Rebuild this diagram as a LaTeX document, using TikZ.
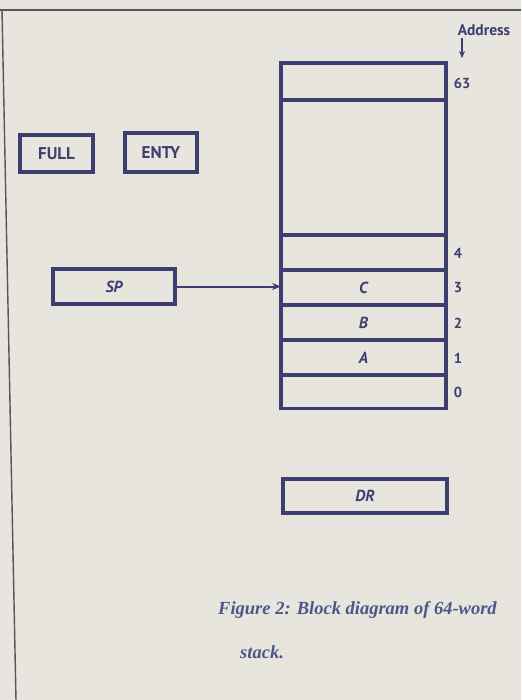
\documentclass[tikz,border=0pt]{standalone}
\usepackage{fontspec}
\setmainfont{Liberation Serif}
\setsansfont{PT Sans}
\usetikzlibrary{arrows.meta}
\definecolor{ink}{HTML}{3C3F70}
\definecolor{bg}{HTML}{E7E5DD}
\definecolor{capc}{HTML}{4A5888}
\definecolor{frame}{HTML}{55555F}
\begin{document}
\begin{tikzpicture}[x=1pt,y=-1pt,
  cell/.style={draw=ink,line width=3.2pt,inner sep=0pt,outer sep=0pt,minimum width=165pt,minimum height=35pt},
  regbox/.style={draw=ink,line width=3.2pt,inner sep=0pt,outer sep=0pt},
  lbl/.style={font=\sffamily\bfseries\fontsize{17}{17}\selectfont,text=ink},
  ilbl/.style={font=\sffamily\bfseries\itshape\fontsize{16}{16}\selectfont,text=ink},
  num/.style={font=\sffamily\bfseries\fontsize{14.5}{14.5}\selectfont,text=ink},
  capt/.style={font=\bfseries\itshape\fontsize{18.5}{18.5}\selectfont,text=capc,inner sep=0pt,anchor=west}]
\fill[bg] (0,0) rectangle (521,700);
\useasboundingbox (0,0) rectangle (521,700);
% frame lines of the photographed page
\draw[frame,line width=1.4pt] (0,10) -- (521,10);
\draw[frame,line width=1.4pt] (2,10) -- (16,700);
% status flags
\node[regbox,minimum width=73pt,minimum height=37pt,lbl] (full) at (56.5,153.5) {FULL};
\node[regbox,minimum width=72pt,minimum height=39pt,lbl] (empty) at (161,152.5) {ENTY};
% stack
\node[cell,minimum height=37pt] (w63) at (363.5,81.5) {};
\node[cell,minimum height=135pt] (wgap) at (363.5,167.5) {};
\node[cell] (w4) at (363.5,252.5) {};
\node[cell,ilbl] (w3) at (363.5,287.5) {C};
\node[cell,ilbl] (w2) at (363.5,322.5) {B};
\node[cell,ilbl] (w1) at (363.5,357.5) {A};
\node[cell,minimum height=34pt] (w0) at (363.5,391.5) {};
% addresses
\node[lbl,font=\sffamily\bfseries\fontsize{15.5}{15.5}\selectfont,inner sep=0pt] (addr) at (484,30) {Address};
\coordinate (addrtip) at (462,58);
\draw[ink,line width=1.8pt,-{Stealth[length=7pt,width=6pt]}] (462,38) -- (addrtip);
\node[num] (a63) at (462,83) {63};
\node[num] (a4) at (458,253) {4};
\node[num] (a3) at (458,288) {3};
\node[num] (a2) at (458,323) {2};
\node[num] (a1) at (458,358) {1};
\node[num] (a0) at (458,392) {0};
% stack pointer
\node[regbox,minimum width=122pt,minimum height=35pt,ilbl] (sp) at (114,286.5) {SP};
\draw[ink,line width=2pt,-{Stealth[length=9pt,width=7pt]}] (sp.east) -- (sp.east -| w3.west);
% data register
\node[regbox,minimum width=164pt,minimum height=34pt,ilbl] (dr) at (365,496) {DR};
% caption
\node[capt] (cap1) at (218,610) {Figure 2: Block diagram of 64-word};
\node[capt] (cap2) at (240,652) {stack.};
\end{tikzpicture}
\end{document}
